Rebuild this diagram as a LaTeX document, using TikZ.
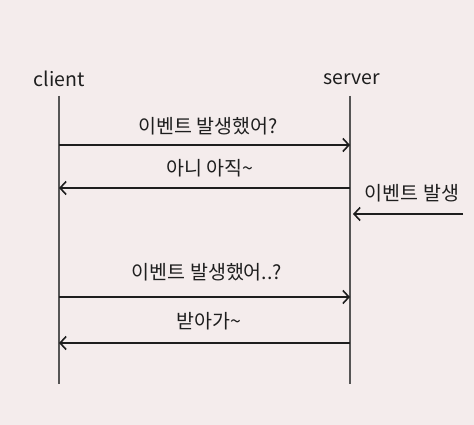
\documentclass[tikz,border=0pt]{standalone}
\usepackage{fontspec}
\setmainfont{Noto Sans CJK KR}
\usetikzlibrary{arrows.meta}
\definecolor{bg}{HTML}{F4ECEC}
\definecolor{life}{HTML}{555555}
\definecolor{ink}{HTML}{1E1E1E}
\tikzset{
  lifeline/.style={draw=life, line width=1.3pt},
  msg/.style={draw=ink, line width=1.6pt, -{Straight Barb[length=6pt,width=13pt,line width=1.6pt]}},
  lbl/.style={font=\fontsize{19.5}{22}\selectfont, text=ink, inner sep=0pt},
}
\begin{document}
\begin{tikzpicture}[x=1pt,y=-1pt]
\fill[bg] (0,0) rectangle (474,425);
\useasboundingbox (0,0) rectangle (474,425);
\node[lbl] (client) at (59,79) {client};
\node[lbl] (server) at (352,79) {server};
\coordinate (c0) at (59,96);
\coordinate (c1) at (59,384);
\coordinate (s0) at (350,96);
\coordinate (s1) at (350,384);
\draw[lifeline] (c0) -- (c1);
\draw[lifeline] (s0) -- (s1);
\coordinate (a1c) at (59,145); \coordinate (a1s) at (350,145);
\coordinate (a2c) at (59,188); \coordinate (a2s) at (350,188);
\coordinate (a3c) at (59,297); \coordinate (a3s) at (350,297);
\coordinate (a4c) at (59,343); \coordinate (a4s) at (350,343);
\draw[msg] (a1c) -- (a1s);
\draw[msg] (a2s) -- (a2c);
\draw[msg] (a3c) -- (a3s);
\draw[msg] (a4s) -- (a4c);
\node[lbl] (m1) at (208,126) {이벤트 발생했어?};
\node[lbl] (m2) at (210,168) {아니 아직\textasciitilde};
\node[lbl] (m3) at (207,272) {이벤트 발생했어..?};
\node[lbl] (m4) at (209,321) {받아가\textasciitilde};
\coordinate (e0) at (463,214);
\coordinate (e1) at (353,214);
\draw[msg] (e0) -- (e1);
\node[lbl] (ev) at (412,193) {이벤트 발생};
\end{tikzpicture}
\end{document}
